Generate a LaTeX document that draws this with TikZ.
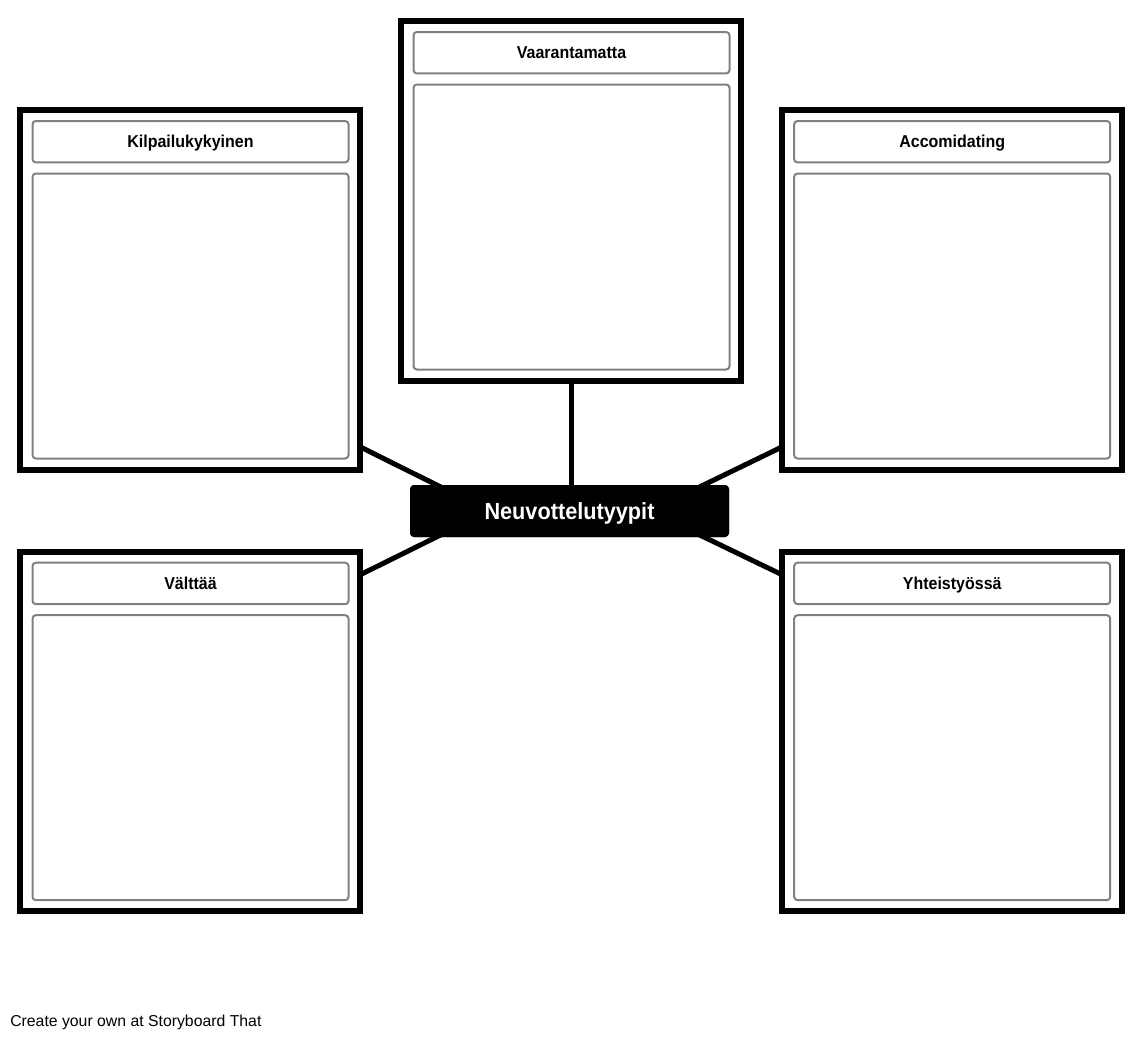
\documentclass[tikz,border=0pt]{standalone}
\usepackage{fontspec}
\setmainfont{Liberation Sans}
\newfontfamily\condfont{Liberation Sans}[FakeStretch=0.93]
\usetikzlibrary{calc}
\begin{document}
\begin{tikzpicture}[x=0.75pt,y=-0.75pt,
  frame/.style={draw=black,line width=4.5pt,fill=white,inner sep=0pt,outer sep=0pt,
    minimum width=255pt,minimum height=269.5pt,anchor=north west},
  hdr/.style={draw=black!50,line width=1.5pt,rounded corners=2.5pt,fill=white,inner sep=0pt,outer sep=0pt,
    minimum width=237pt,minimum height=31.1pt,anchor=north west,
    font=\condfont\bfseries\fontsize{12.9pt}{14pt}\selectfont,text height=9.2pt,text depth=0pt},
  bodybox/.style={draw=black!50,line width=1.5pt,rounded corners=2.5pt,fill=white,inner sep=0pt,outer sep=0pt,
    minimum width=237pt,minimum height=213.75pt,anchor=north west},
  hub/.style={fill=black,rounded corners=3pt,inner sep=0pt,outer sep=0pt,
    minimum width=239.25pt,minimum height=39pt,text=white,
    font=\condfont\bfseries\fontsize{17.5pt}{20pt}\selectfont,text height=12.5pt,text depth=0pt},
  link/.style={draw=black,line width=3.75pt},
  footer/.style={font=\fontsize{11.85pt}{13pt}\selectfont,anchor=base west,inner sep=0pt}]
\newcommand\mypanel[4]{%
  \node[frame] (#1) at (#2,#3) {};
  \node[hdr] (#1h) at ($(#1.north west)+(12.2,10.7)$) {#4};
  \node[bodybox] (#1b) at ($(#1.north west)+(12.2,63.2)$) {};
}
\useasboundingbox[fill=white] (0,0) rectangle (1143,1040);
\mypanel{tl}{20.3}{110.3}{Kilpailukykyinen}
\mypanel{tc}{401.3}{21.3}{Vaarantamatta}
\mypanel{tr}{782}{110.3}{Accomidating}
\mypanel{bl}{20.3}{552}{Välttää}
\mypanel{br}{782}{552}{Yhteistyössä}
\node[hub] (hub) at (569.5,511) {Neuvottelutyypit};
\coordinate (hl) at ($(hub.center)+(-80.5,0)$);
\coordinate (hr) at ($(hub.center)+(80.5,0)$);
\draw[link] ($(tl.south east)+(0,-22.7)$) -- (hl);
\draw[link] ($(bl.north east)+(0,22.7)$) -- (hl);
\draw[link] ($(tr.south west)+(0,-22.7)$) -- (hr);
\draw[link] ($(br.north west)+(0,22.7)$) -- (hr);
\draw[link] (tc.south) -- (tc.south |- hub.north);
\node[hub] at (hub.center) {Neuvottelutyypit};
\node[footer] (foot) at (10,1026.7) {Create your own at Storyboard That};
\end{tikzpicture}
\end{document}
